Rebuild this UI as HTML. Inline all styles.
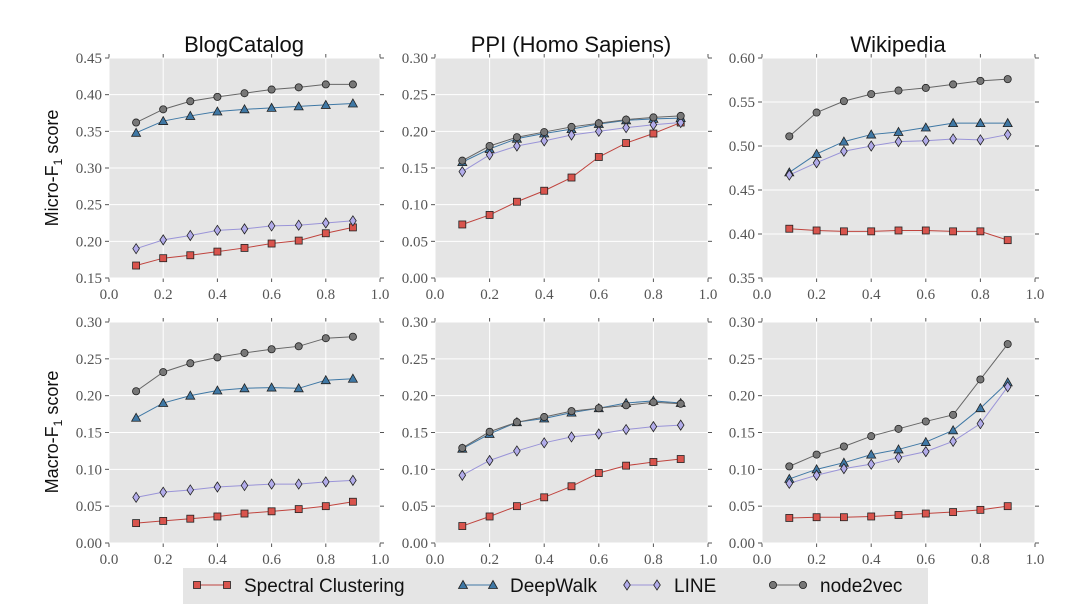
<!DOCTYPE html><html><head><meta charset="utf-8"><style>body{margin:0;background:#fff}svg{display:block}</style></head><body>
<svg id="s" width="1070" height="612" xmlns="http://www.w3.org/2000/svg"></svg>
<script>
const S=document.getElementById('s');let h='';
const X=[[109,380],[435,708],[762,1035]],Y=[[58,278],[322,543]];
const yr=[[[.15,.45],[0,.3],[.35,.6]],[[0,.3],[0,.3],[0,.3]]];
const D=[[
[[.167,.177,.181,.186,.191,.197,.201,.211,.219],[.348,.364,.371,.377,.380,.382,.384,.386,.388],[.190,.202,.208,.215,.217,.221,.222,.225,.228],[.362,.380,.391,.397,.402,.407,.410,.414,.414]],
[[.073,.086,.104,.119,.137,.165,.184,.197,.212],[.158,.176,.190,.197,.203,.210,.215,.217,.218],[.145,.168,.180,.187,.195,.200,.205,.209,.212],[.160,.180,.192,.199,.206,.211,.216,.219,.221]],
[[.406,.404,.403,.403,.404,.404,.403,.403,.393],[.470,.491,.505,.513,.516,.521,.526,.526,.526],[.467,.481,.494,.500,.505,.506,.508,.507,.513],[.511,.538,.551,.559,.563,.566,.570,.574,.576]]],[
[[.027,.030,.033,.036,.040,.043,.046,.050,.056],[.170,.190,.200,.207,.210,.211,.210,.221,.223],[.062,.069,.072,.076,.078,.080,.080,.083,.085],[.206,.232,.244,.252,.258,.263,.267,.278,.280]],
[[.023,.036,.050,.062,.077,.095,.105,.110,.114],[.128,.148,.164,.169,.177,.183,.190,.193,.190],[.092,.112,.125,.136,.144,.148,.154,.158,.160],[.129,.151,.164,.171,.179,.183,.187,.191,.189]],
[[.034,.035,.035,.036,.038,.040,.042,.045,.050],[.087,.100,.109,.120,.127,.137,.153,.183,.218],[.081,.092,.101,.107,.116,.124,.138,.162,.212],[.104,.120,.131,.145,.155,.165,.174,.222,.270]]]];
const LC=['#c0443e','#3f78a5','#9a94d8','#666'],FC=['#d9544d','#3f78a5','#b2acea','#777'];
function mk(t,x,y){if(t==0)return `<rect x="${x-3.5}" y="${y-3.5}" width="7" height="7" fill="${FC[0]}" stroke="#222" stroke-width="0.8"/>`;
if(t==1)return `<polygon points="${x},${y-4.5} ${x+4.5},${y+3.5} ${x-4.5},${y+3.5}" fill="${FC[1]}" stroke="#222" stroke-width="0.8"/>`;
if(t==2)return `<polygon points="${x},${y-5} ${x+3.3},${y} ${x},${y+5} ${x-3.3},${y}" fill="${FC[2]}" stroke="#222" stroke-width="0.8"/>`;
return `<circle cx="${x}" cy="${y}" r="3.6" fill="${FC[3]}" stroke="#222" stroke-width="0.8"/>`;}
const ser='font-family="Liberation Serif,serif" font-size="15" fill="#555"';
for(let r=0;r<2;r++)for(let c=0;c<3;c++){const[x0,x1]=X[c],[y0,y1]=Y[r],[a,b]=yr[r][c];
const px=v=>x0+(x1-x0)*v,py=v=>y1-(y1-y0)*(v-a)/(b-a);
h+=`<rect x="${x0}" y="${y0}" width="${x1-x0}" height="${y1-y0}" fill="#e5e5e5"/>`;
for(let i=0;i<=5;i++){const xx=px(i/5);h+=`<line x1="${xx}" y1="${y0}" x2="${xx}" y2="${y1}" stroke="#fff"/><line x1="${xx}" y1="${y1}" x2="${xx}" y2="${y1+4}" stroke="#555"/><line x1="${xx}" y1="${y0}" x2="${xx}" y2="${y0-4}" stroke="#555"/><text x="${xx}" y="${y1+21}" text-anchor="middle" ${ser}>${(i/5).toFixed(1)}</text>`;}
const n=Math.round((b-a)/0.05);
for(let i=0;i<=n;i++){const v=a+0.05*i,yy=py(v);h+=`<line x1="${x0}" y1="${yy}" x2="${x1}" y2="${yy}" stroke="#fff"/><line x1="${x0-4}" y1="${yy}" x2="${x0}" y2="${yy}" stroke="#555"/><line x1="${x1}" y1="${yy}" x2="${x1+4}" y2="${yy}" stroke="#555"/><text x="${x0-7}" y="${yy+5}" text-anchor="end" ${ser}>${v.toFixed(2)}</text>`;}
D[r][c].forEach((s,t)=>{h+=`<polyline fill="none" stroke="${LC[t]}" stroke-width="1" points="${s.map((v,i)=>px((i+1)/10)+','+py(v)).join(' ')}"/>`;});
D[r][c].forEach((s,t)=>{s.forEach((v,i)=>h+=mk(t,px((i+1)/10),py(v)));});}
const tf='font-family="Liberation Sans,sans-serif" fill="#111"';
h+=`<text x="244" y="52" text-anchor="middle" font-size="22" ${tf}>BlogCatalog</text><text x="571" y="52" text-anchor="middle" font-size="22" ${tf}>PPI (Homo Sapiens)</text><text x="898" y="52" text-anchor="middle" font-size="22" ${tf}>Wikipedia</text>`;
h+=`<text transform="translate(58,168) rotate(-90)" text-anchor="middle" font-size="18" ${tf}>Micro-F<tspan font-size="12" dy="4">1</tspan><tspan dy="-4"> score</tspan></text>`;
h+=`<text transform="translate(58,432) rotate(-90)" text-anchor="middle" font-size="18" ${tf}>Macro-F<tspan font-size="12" dy="4">1</tspan><tspan dy="-4"> score</tspan></text>`;
h+=`<rect x="183" y="568" width="745" height="36" fill="#e5e5e5"/>`;
const L=[['Spectral Clustering',197],['DeepWalk',463],['LINE',627],['node2vec',773]];
L.forEach(([n,x],t)=>{h+=`<line x1="${x}" y1="585" x2="${x+30}" y2="585" stroke="${LC[t]}"/>`+mk(t,x,585)+mk(t,x+30,585)+`<text x="${x+47}" y="592" font-size="19" ${tf}>${n}</text>`;});
S.innerHTML=h;
</script></body></html>
